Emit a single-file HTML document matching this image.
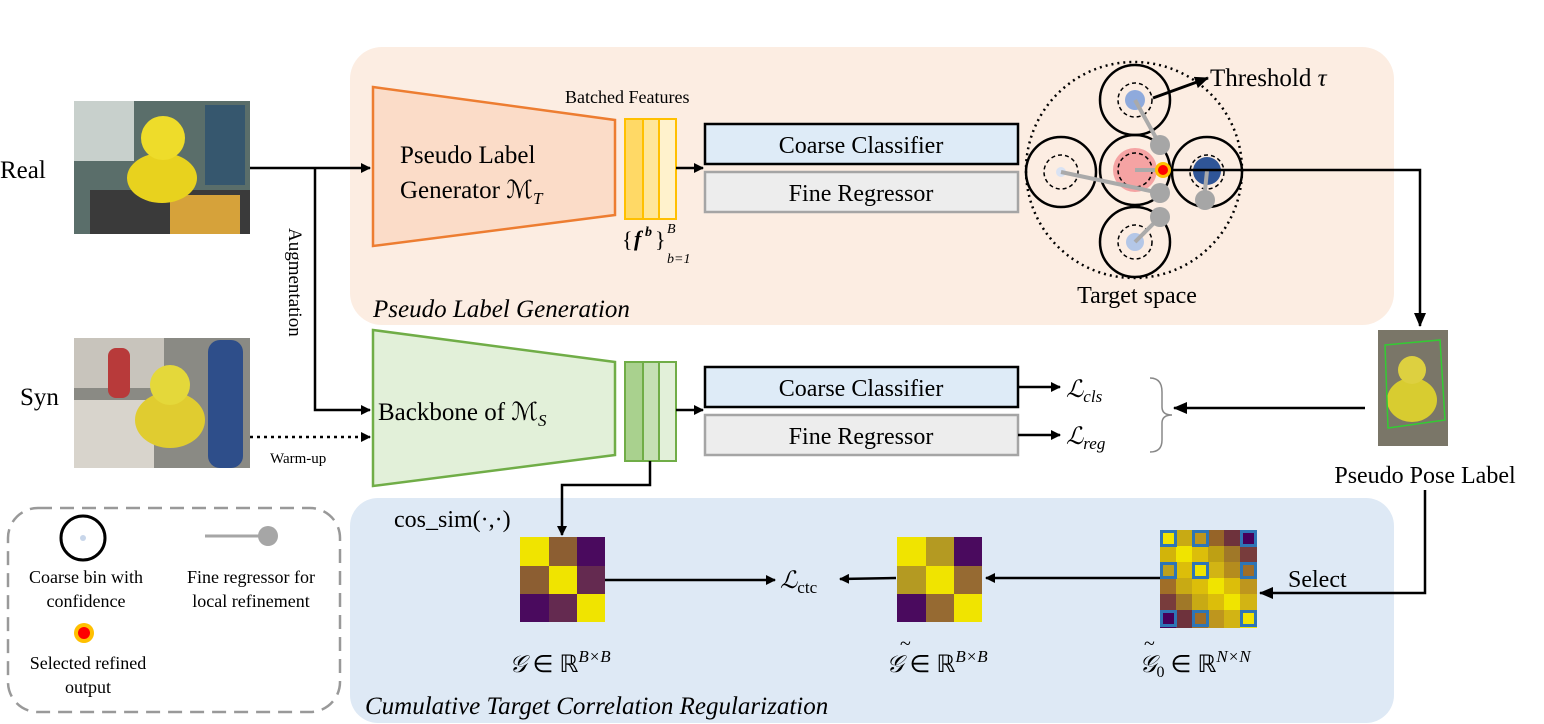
<!DOCTYPE html>
<html><head><meta charset="utf-8"><style>
html,body{margin:0;padding:0;background:#fff;}
svg{display:block;font-family:"Liberation Serif",serif;}
</style></head><body>
<svg width="1544" height="724" viewBox="0 0 1544 724" xmlns="http://www.w3.org/2000/svg">
<defs>
<marker id="ar" markerWidth="10" markerHeight="10" refX="9" refY="5" orient="auto" markerUnits="userSpaceOnUse"><path d="M0,0 L10,5 L0,10 z" fill="#000"/></marker>
<marker id="arb" markerWidth="14" markerHeight="12" refX="13" refY="6" orient="auto" markerUnits="userSpaceOnUse"><path d="M0,0 L14,6 L0,12 z" fill="#000"/></marker>
</defs>
<rect x="350" y="47" width="1044" height="278" rx="32" fill="#fcede2"/>
<rect x="350" y="498" width="1044" height="225" rx="28" fill="#dee9f5"/>
<rect x="8" y="508" width="332" height="204" rx="30" fill="none" stroke="#999" stroke-width="2.5" stroke-dasharray="14,8"/>

<rect x="74" y="101" width="176" height="133" fill="#5a6e6a"/>
<rect x="74" y="101" width="60" height="60" fill="#c8d0cc"/>
<rect x="90" y="190" width="160" height="44" fill="#3a3a3a"/>
<rect x="170" y="195" width="70" height="39" fill="#d6a23a"/>
<ellipse cx="162" cy="178" rx="35" ry="25" fill="#e8d21e"/>
<circle cx="163" cy="138" r="22" fill="#eedc2a"/>
<rect x="205" y="105" width="40" height="80" fill="#36576e"/>
<rect x="74" y="338" width="176" height="130" fill="#8a8a84"/>
<rect x="74" y="338" width="90" height="50" fill="#c8c4bc"/>
<rect x="74" y="400" width="80" height="68" fill="#d8d4cc"/>
<ellipse cx="170" cy="420" rx="35" ry="28" fill="#e0cc30"/>
<circle cx="170" cy="385" r="20" fill="#e4d83a"/>
<rect x="208" y="340" width="35" height="128" rx="12" fill="#2e4e8a"/>
<rect x="108" y="348" width="22" height="50" rx="8" fill="#b83a3a"/>

<text x="0" y="178" font-size="25">Real</text>
<text x="20" y="405" font-size="25">Syn</text>

<line x1="250" y1="168" x2="370" y2="168" stroke="#000" stroke-width="2.5" marker-end="url(#ar)"/>
<polyline points="315,168 315,410 370,410" fill="none" stroke="#000" stroke-width="2.5" marker-end="url(#ar)"/>
<text transform="translate(289,228) rotate(90)" font-size="19">Augmentation</text>
<line x1="250" y1="437" x2="370" y2="437" stroke="#000" stroke-width="2.5" stroke-dasharray="3,4" marker-end="url(#ar)"/>
<text x="270" y="463" font-size="15">Warm-up</text>

<polygon points="373,87 615,120 615,215 373,246" fill="#fbdcc8" stroke="#ed7d31" stroke-width="2.5"/>
<text x="400" y="163" font-size="25">Pseudo Label</text>
<text x="400" y="198" font-size="25">Generator ℳ<tspan font-size="17" dy="6" font-style="italic">T</tspan></text>
<text x="565" y="103" font-size="18">Batched Features</text>
<rect x="625" y="119" width="18" height="100" fill="#ffd966" stroke="#ffc000" stroke-width="2"/>
<rect x="643" y="119" width="16" height="100" fill="#ffe699" stroke="#ffc000" stroke-width="2"/>
<rect x="659" y="119" width="17" height="100" fill="#fff2cc" stroke="#ffc000" stroke-width="2"/>
<text x="622" y="247" font-size="22">{</text>
<text x="634" y="246" font-size="22" font-weight="bold" font-style="italic">f</text>
<text x="645" y="236" font-size="14" font-weight="bold" font-style="italic">b</text>
<text x="655" y="247" font-size="22">}</text>
<text x="667" y="233" font-size="14" font-style="italic">B</text>
<text x="667" y="263" font-size="14" font-style="italic">b=1</text>
<line x1="676" y1="168" x2="703" y2="168" stroke="#000" stroke-width="2.5" marker-end="url(#ar)"/>
<rect x="705" y="124" width="313" height="40" fill="#deebf7" stroke="#000" stroke-width="2.5"/>
<text x="861" y="153" font-size="24" text-anchor="middle">Coarse Classifier</text>
<rect x="705" y="172" width="313" height="40" fill="#ededed" stroke="#a5a5a5" stroke-width="2.5"/>
<text x="861" y="201" font-size="24" text-anchor="middle">Fine Regressor</text>
<text x="373" y="317" font-size="25" font-style="italic">Pseudo Label Generation</text>

<circle cx="1134" cy="170" r="108" fill="none" stroke="#000" stroke-width="2.5" stroke-dasharray="2,4"/>
<g fill="none" stroke="#000" stroke-width="2.5">
<circle cx="1135" cy="100" r="35"/><circle cx="1135" cy="170" r="35"/><circle cx="1135" cy="242" r="35"/>
<circle cx="1061" cy="172" r="35"/><circle cx="1207" cy="172" r="35"/>
</g>
<circle cx="1135" cy="170" r="22" fill="#f5a3a3"/>
<g fill="none" stroke="#000" stroke-width="1.5" stroke-dasharray="4,3">
<circle cx="1135" cy="100" r="17"/><circle cx="1135" cy="170" r="17"/><circle cx="1135" cy="242" r="17"/>
<circle cx="1061" cy="172" r="17"/><circle cx="1207" cy="172" r="17"/>
</g>
<circle cx="1135" cy="100" r="10" fill="#8faadc"/>
<circle cx="1135" cy="242" r="9" fill="#b4c7e7"/>
<circle cx="1061" cy="172" r="5" fill="#dae3f3"/>
<circle cx="1207" cy="171" r="14" fill="#2f5597"/>
<g stroke="#aaa" stroke-width="4">
<line x1="1135" y1="100" x2="1160" y2="145"/><line x1="1061" y1="172" x2="1160" y2="193"/>
<line x1="1135" y1="242" x2="1160" y2="217"/><line x1="1207" y1="171" x2="1204" y2="200"/>
<line x1="1135" y1="170" x2="1160" y2="170"/>
</g>
<g fill="#a6a6a6"><circle cx="1160" cy="145" r="10"/><circle cx="1160" cy="193" r="10"/><circle cx="1160" cy="217" r="10"/><circle cx="1205" cy="200" r="10"/></g>
<polyline points="1163,170 1420,170 1420,326" fill="none" stroke="#000" stroke-width="2.5" marker-end="url(#arb)"/>
<circle cx="1163" cy="170" r="8" fill="#ffc000"/><circle cx="1163" cy="170" r="5" fill="#f00"/>
<line x1="1153" y1="98" x2="1208" y2="78" stroke="#000" stroke-width="3" marker-end="url(#arb)"/>
<text x="1210" y="86" font-size="25">Threshold <tspan font-style="italic">τ</tspan></text>
<text x="1137" y="303" font-size="24" text-anchor="middle">Target space</text>

<rect x="1378" y="330" width="70" height="116" fill="#7a7668"/>
<ellipse cx="1412" cy="400" rx="25" ry="22" fill="#d8cc30"/>
<circle cx="1412" cy="370" r="14" fill="#ddd040"/>
<polygon points="1385,345 1440,340 1445,420 1388,428" fill="none" stroke="#3c3" stroke-width="1.5"/>
<text x="1425" y="483" font-size="24" text-anchor="middle">Pseudo Pose Label</text>

<polygon points="373,330 615,362 615,455 373,486" fill="#e2f0d9" stroke="#70ad47" stroke-width="2.5"/>
<text x="378" y="420" font-size="25">Backbone of ℳ<tspan font-size="17" dy="6" font-style="italic">S</tspan></text>
<rect x="625" y="362" width="18" height="99" fill="#a9d18e" stroke="#70ad47" stroke-width="2"/>
<rect x="643" y="362" width="16" height="99" fill="#c5e0b4" stroke="#70ad47" stroke-width="2"/>
<rect x="659" y="362" width="17" height="99" fill="#e2f0d9" stroke="#70ad47" stroke-width="2"/>
<line x1="676" y1="410" x2="703" y2="410" stroke="#000" stroke-width="2.5" marker-end="url(#ar)"/>
<rect x="705" y="367" width="313" height="40" fill="#deebf7" stroke="#000" stroke-width="2.5"/>
<text x="861" y="396" font-size="24" text-anchor="middle">Coarse Classifier</text>
<rect x="705" y="415" width="313" height="40" fill="#ededed" stroke="#a5a5a5" stroke-width="2.5"/>
<text x="861" y="444" font-size="24" text-anchor="middle">Fine Regressor</text>
<line x1="1018" y1="387" x2="1060" y2="387" stroke="#000" stroke-width="2.5" marker-end="url(#ar)"/>
<line x1="1018" y1="435" x2="1060" y2="435" stroke="#000" stroke-width="2.5" marker-end="url(#ar)"/>
<text x="1066" y="397" font-size="24" font-style="italic">ℒ<tspan font-size="17" dy="5">cls</tspan></text>
<text x="1066" y="444" font-size="24" font-style="italic">ℒ<tspan font-size="17" dy="5">reg</tspan></text>
<path d="M1150,378 Q1162,378 1162,392 L1162,407 Q1162,415 1172,415 Q1162,415 1162,423 L1162,440 Q1162,452 1150,452" fill="none" stroke="#888" stroke-width="1.5"/>
<line x1="1365" y1="408" x2="1174" y2="408" stroke="#000" stroke-width="2.5" marker-end="url(#arb)"/>

<polyline points="650,461 650,485 562,485 562,535" fill="none" stroke="#000" stroke-width="2.5" marker-end="url(#ar)"/>
<text x="394" y="527" font-size="24">cos_sim(·,·)</text>

<g transform="translate(520,537)">
<rect x="0" y="0" width="29" height="29" fill="#f0e400"/><rect x="29" y="0" width="28" height="29" fill="#8c5e32"/><rect x="57" y="0" width="28" height="29" fill="#4a0a5e"/>
<rect x="0" y="29" width="29" height="28" fill="#8c5e32"/><rect x="29" y="29" width="28" height="28" fill="#f0e400"/><rect x="57" y="29" width="28" height="28" fill="#642a50"/>
<rect x="0" y="57" width="29" height="28" fill="#4a0a5e"/><rect x="29" y="57" width="28" height="28" fill="#642a50"/><rect x="57" y="57" width="28" height="28" fill="#f0e400"/>
</g>
<line x1="605" y1="580" x2="775" y2="580" stroke="#000" stroke-width="2.5" marker-end="url(#ar)"/>
<text x="780" y="588" font-size="24" font-style="italic">ℒ<tspan font-size="17" dy="5" font-style="normal">ctc</tspan></text>
<line x1="896" y1="578" x2="840" y2="579" stroke="#000" stroke-width="2.5" marker-end="url(#ar)"/>
<g transform="translate(897,537)">
<rect x="0" y="0" width="29" height="29" fill="#f0e400"/><rect x="29" y="0" width="28" height="29" fill="#b49a22"/><rect x="57" y="0" width="28" height="29" fill="#4a0a5e"/>
<rect x="0" y="29" width="29" height="28" fill="#b49a22"/><rect x="29" y="29" width="28" height="28" fill="#f0e400"/><rect x="57" y="29" width="28" height="28" fill="#966a32"/>
<rect x="0" y="57" width="29" height="28" fill="#4a0a5e"/><rect x="29" y="57" width="28" height="28" fill="#966a32"/><rect x="57" y="57" width="28" height="28" fill="#f0e400"/>
</g>
<line x1="1160" y1="578" x2="986" y2="578" stroke="#000" stroke-width="2.5" marker-end="url(#ar)"/>
<g transform="translate(1160,530)">
<rect width="16" height="16" x="0" y="0" fill="#f0e400"/><rect width="16" height="16" x="16" y="0" fill="#c8aa14"/><rect width="16" height="16" x="32" y="0" fill="#be961e"/><rect width="16" height="16" x="48" y="0" fill="#966428"/><rect width="16" height="16" x="64" y="0" fill="#6e323c"/><rect width="17" height="16" x="80" y="0" fill="#46005a"/>
<rect width="16" height="16" x="0" y="16" fill="#d2b40a"/><rect width="16" height="16" x="16" y="16" fill="#f0e400"/><rect width="16" height="16" x="32" y="16" fill="#dcbe0a"/><rect width="16" height="16" x="48" y="16" fill="#bea014"/><rect width="16" height="16" x="64" y="16" fill="#a07828"/><rect width="17" height="16" x="80" y="16" fill="#783c3c"/>
<rect width="16" height="16" x="0" y="32" fill="#bea01e"/><rect width="16" height="16" x="16" y="32" fill="#dcbe0a"/><rect width="16" height="16" x="32" y="32" fill="#f0e400"/><rect width="16" height="16" x="48" y="32" fill="#d2b414"/><rect width="16" height="16" x="64" y="32" fill="#b48c1e"/><rect width="17" height="16" x="80" y="32" fill="#a06e28"/>
<rect width="16" height="16" x="0" y="48" fill="#a06e28"/><rect width="16" height="16" x="16" y="48" fill="#c8aa14"/><rect width="16" height="16" x="32" y="48" fill="#dcbe0a"/><rect width="16" height="16" x="48" y="48" fill="#f0e400"/><rect width="16" height="16" x="64" y="48" fill="#dcbe0a"/><rect width="17" height="16" x="80" y="48" fill="#be961e"/>
<rect width="16" height="16" x="0" y="64" fill="#783c3c"/><rect width="16" height="16" x="16" y="64" fill="#a07828"/><rect width="16" height="16" x="32" y="64" fill="#c8aa14"/><rect width="16" height="16" x="48" y="64" fill="#dcbe0a"/><rect width="16" height="16" x="64" y="64" fill="#f0e400"/><rect width="17" height="16" x="80" y="64" fill="#d2b414"/>
<rect width="16" height="18" x="0" y="80" fill="#46005a"/><rect width="16" height="18" x="16" y="80" fill="#6e323c"/><rect width="16" height="18" x="32" y="80" fill="#a06e28"/><rect width="16" height="18" x="48" y="80" fill="#be961e"/><rect width="16" height="18" x="64" y="80" fill="#d2b414"/><rect width="17" height="18" x="80" y="80" fill="#f0e400"/>
<g fill="none" stroke="#2e75b6" stroke-width="3">
<rect x="1.5" y="1.5" width="14" height="14"/><rect x="33.5" y="1.5" width="14" height="14"/><rect x="81.5" y="1.5" width="14" height="14"/>
<rect x="1.5" y="33.5" width="14" height="14"/><rect x="33.5" y="33.5" width="14" height="14"/><rect x="81.5" y="33.5" width="14" height="14"/>
<rect x="1.5" y="81.5" width="14" height="14"/><rect x="33.5" y="81.5" width="14" height="14"/><rect x="81.5" y="81.5" width="14" height="14"/>
</g>
</g>
<polyline points="1425,490 1425,593 1260,593" fill="none" stroke="#000" stroke-width="2.5" marker-end="url(#arb)"/>
<text x="1288" y="587" font-size="24">Select</text>

<text x="560" y="672" font-size="24" text-anchor="middle"><tspan font-style="italic">𝒢</tspan> ∈ ℝ<tspan font-size="17" dy="-10" font-style="italic">B×B</tspan></text>
<text x="937" y="672" font-size="24" text-anchor="middle"><tspan font-style="italic">𝒢</tspan> ∈ ℝ<tspan font-size="17" dy="-10" font-style="italic">B×B</tspan></text>
<text x="900" y="650" font-size="20">~</text>
<text x="1195" y="672" font-size="24" text-anchor="middle"><tspan font-style="italic">𝒢</tspan><tspan font-size="16" dy="5">0</tspan><tspan dy="-5"> ∈ ℝ</tspan><tspan font-size="17" dy="-10" font-style="italic">N×N</tspan></text>
<text x="1144" y="650" font-size="20">~</text>
<text x="365" y="714" font-size="25" font-style="italic">Cumulative Target Correlation Regularization</text>

<circle cx="83" cy="538" r="22" fill="none" stroke="#000" stroke-width="3"/>
<circle cx="83" cy="538" r="3" fill="#c8d6ea"/>
<text x="86" y="583" font-size="18" text-anchor="middle">Coarse bin with</text>
<text x="86" y="607" font-size="18" text-anchor="middle">confidence</text>
<line x1="205" y1="536" x2="262" y2="536" stroke="#a6a6a6" stroke-width="3"/>
<circle cx="268" cy="536" r="10" fill="#a6a6a6"/>
<text x="251" y="583" font-size="18" text-anchor="middle">Fine regressor for</text>
<text x="251" y="607" font-size="18" text-anchor="middle">local refinement</text>
<circle cx="84" cy="633" r="10" fill="#ffc000"/><circle cx="84" cy="633" r="6" fill="#f00"/>
<text x="88" y="669" font-size="18" text-anchor="middle">Selected refined</text>
<text x="88" y="693" font-size="18" text-anchor="middle">output</text>
</svg>
</body></html>
